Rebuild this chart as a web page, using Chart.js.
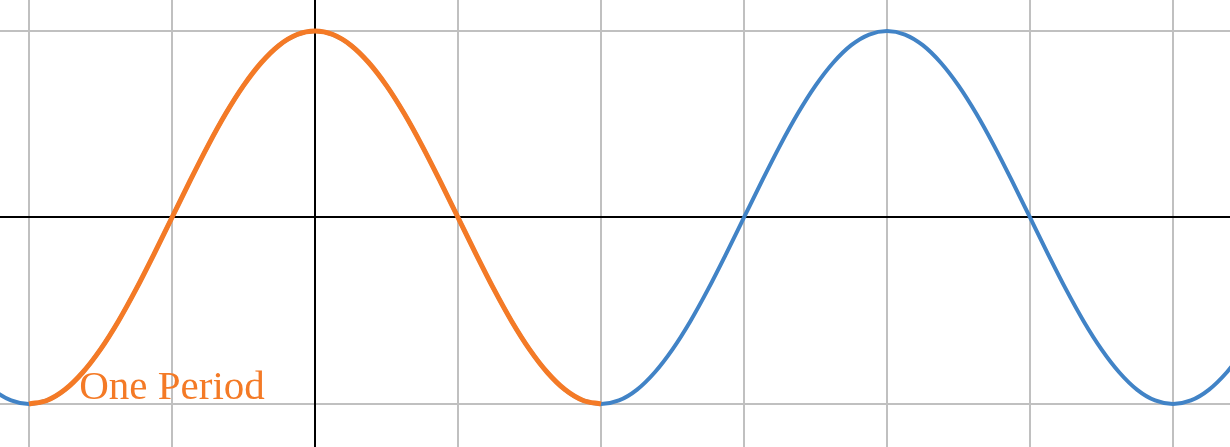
<!DOCTYPE html>
<html>
<head>
<meta charset="utf-8">
<script src="https://cdn.jsdelivr.net/npm/chart.js@4"></script>
<style>
html,body{margin:0;padding:0;background:#fff;}
#wrap{width:1230px;height:447px;position:relative;}
</style>
</head>
<body>
<div id="wrap"><canvas id="c"></canvas></div>
<script>
// x in units of pi/2 (one grid step), y = value of the wave
const blueX = [-2.5,-2.375,-2.25,-2.125,
 -2,-1.875,-1.75,-1.625,-1.5,-1.375,-1.25,-1.125,-1,-0.875,-0.75,-0.625,-0.5,-0.375,-0.25,-0.125,
 0,0.125,0.25,0.375,0.5,0.625,0.75,0.875,1,1.125,1.25,1.375,1.5,1.625,1.75,1.875,
 2,2.125,2.25,2.375,2.5,2.625,2.75,2.875,3,3.125,3.25,3.375,3.5,3.625,3.75,3.875,
 4,4.125,4.25,4.375,4.5,4.625,4.75,4.875,5,5.125,5.25,5.375,5.5,5.625,5.75,5.875,
 6,6.125,6.25,6.375,6.5];
const blueY = [-0.707,-0.831,-0.924,-0.981,
 -1,-0.981,-0.924,-0.831,-0.707,-0.556,-0.383,-0.195,0,0.195,0.383,0.556,0.707,0.831,0.924,0.981,
 1,0.981,0.924,0.831,0.707,0.556,0.383,0.195,0,-0.195,-0.383,-0.556,-0.707,-0.831,-0.924,-0.981,
 -1,-0.981,-0.924,-0.831,-0.707,-0.556,-0.383,-0.195,0,0.195,0.383,0.556,0.707,0.831,0.924,0.981,
 1,0.981,0.924,0.831,0.707,0.556,0.383,0.195,0,-0.195,-0.383,-0.556,-0.707,-0.831,-0.924,-0.981,
 -1,-0.981,-0.924,-0.831,-0.707];
const orangeX = [-2,-1.875,-1.75,-1.625,-1.5,-1.375,-1.25,-1.125,-1,-0.875,-0.75,-0.625,-0.5,-0.375,-0.25,-0.125,
 0,0.125,0.25,0.375,0.5,0.625,0.75,0.875,1,1.125,1.25,1.375,1.5,1.625,1.75,1.875,2];
const orangeY = [-1,-0.981,-0.924,-0.831,-0.707,-0.556,-0.383,-0.195,0,0.195,0.383,0.556,0.707,0.831,0.924,0.981,
 1,0.981,0.924,0.831,0.707,0.556,0.383,0.195,0,-0.195,-0.383,-0.556,-0.707,-0.831,-0.924,-0.981,-1];
const labelText = "One Period";
const labelAt = [-1, -1];

const toPts = (xs, ys) => xs.map((x, i) => ({x: x, y: ys[i]}));

const axesPlugin = {
  id: 'axes',
  beforeDatasetsDraw(chart) {
    const {ctx, chartArea: a, scales: {x, y}} = chart;
    ctx.save();
    ctx.strokeStyle = '#000';
    ctx.lineWidth = 2;
    const px = Math.round(x.getPixelForValue(0));
    const py = Math.round(y.getPixelForValue(0));
    ctx.beginPath();
    ctx.moveTo(px, a.top); ctx.lineTo(px, a.bottom);
    ctx.moveTo(a.left, py); ctx.lineTo(a.right, py);
    ctx.stroke();
    ctx.restore();
  },
  afterDatasetsDraw(chart) {
    const {ctx, scales: {x, y}} = chart;
    ctx.save();
    ctx.fillStyle = '#f47a26';
    ctx.font = '41px "Liberation Serif", "DejaVu Serif", serif';
    ctx.textAlign = 'center';
    ctx.textBaseline = 'alphabetic';
    ctx.fillText(labelText, x.getPixelForValue(labelAt[0]), y.getPixelForValue(labelAt[1]) - 5);
    ctx.restore();
  }
};

new Chart(document.getElementById('c'), {
  type: 'scatter',
  data: {
    datasets: [
      {data: toPts(orangeX, orangeY), showLine: true, borderColor: '#f47a26', borderWidth: 5,
       pointRadius: 0, cubicInterpolationMode: 'monotone', fill: false},
      {data: toPts(blueX, blueY), showLine: true, borderColor: '#4183c6', borderWidth: 4,
       pointRadius: 0, cubicInterpolationMode: 'monotone', fill: false}
    ]
  },
  options: {
    responsive: true,
    maintainAspectRatio: false,
    animation: false,
    layout: {padding: 0},
    plugins: {legend: {display: false}, tooltip: {enabled: false}},
    scales: {
      x: {
        type: 'linear', min: -2.2028, max: 6.3986,
        ticks: {display: false, stepSize: 1, includeBounds: false},
        grid: {color: '#c0c0c0', lineWidth: 2, drawTicks: false},
        border: {display: false}
      },
      y: {
        type: 'linear', min: -1.2306, max: 1.1662,
        ticks: {display: false, stepSize: 1, includeBounds: false},
        grid: {color: '#c0c0c0', lineWidth: 2, drawTicks: false},
        border: {display: false}
      }
    }
  },
  plugins: [axesPlugin]
});
</script>
</body>
</html>
